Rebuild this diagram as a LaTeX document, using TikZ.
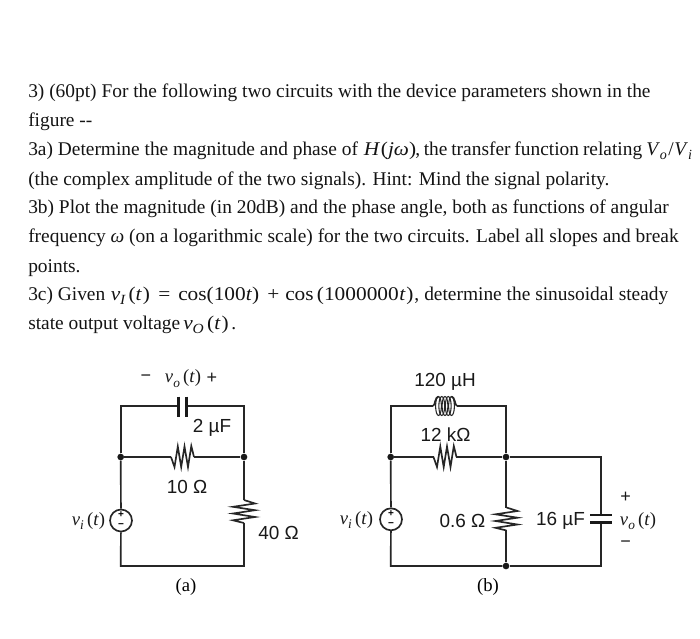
\documentclass[tikz,border=0pt]{standalone}
\usepackage{fontspec}
\setmainfont{Liberation Serif}
\newfontfamily\cirfont{Liberation Sans}
\newfontfamily\mf[FakeStretch=1.1]{Liberation Serif}
\newcommand{\subs}[1]{\raisebox{-0.22em}{\fontsize{10.5}{12}\selectfont\textit{#1}}}
\newcommand{\csub}[1]{\raisebox{-0.25em}{\fontsize{10}{10}\selectfont\textit{#1}}}
\tikzset{
  x=0.75pt,y=-0.75pt,
  textline/.style={anchor=base west,inner sep=0pt,font=\fontsize{14.55}{16}\selectfont,text=black!92},
  mathline/.style={textline,font=\mf\fontsize{14.55}{16}\selectfont},
  wire/.style={line width=1.25pt,black!85,line join=miter},
  dotnode/.style={circle,fill=black!90,inner sep=0pt,minimum size=5pt},
  srcnode/.style={circle,draw=black!85,line width=1.25pt,fill=white,inner sep=0pt,minimum size=16.5pt},
  val/.style={inner sep=0pt,font=\cirfont\fontsize{14.2}{16}\selectfont,text=black!90},
  lab/.style={inner sep=0pt,font=\fontsize{14}{16}\selectfont,text=black!90},
  sym/.style={inner sep=0pt,font=\cirfont\fontsize{13.5}{14}\selectfont,text=black!90},
  srcsym/.style={inner sep=0pt,font=\cirfont\bfseries\fontsize{7.5}{7.5}\selectfont},
  platewire/.style={line width=1.9pt,black!90},
  hres/.pic={\draw[wire] (-11.5,0)--(-8,10)--(-4.7,-10.5)--(-1.3,10)--(2,-10.5)--(5.5,10)--(8.8,-11)--(11.5,0);},
  vres/.pic={\draw[wire] (0,-11.5)--(11,-8)--(-11,-4.7)--(11,-1.3)--(-11,2)--(11,5.5)--(-11,8.8)--(0,11.5);},
  coil/.pic={
    \draw[wire] (-12,0) .. controls (-10,0) and (-10,-9.5) .. (-6.5,-9.5);
    \draw[wire] (12,0) .. controls (10,0) and (10,-9.5) .. (6.5,-9.5);
    \foreach \cx in {-6.5,-3.25,0,3.25,6.5}{\draw[line width=0.8pt,black!85] (\cx,0) ellipse [x radius=2.9,y radius=9.5];}
  }
}
\begin{document}
\begin{tikzpicture}
\useasboundingbox (0,0) rectangle (700,639);
\fill[white] (0,0) rectangle (700,639);

% text block
\node[textline] (l1) at (28,97) {3) (60pt) For the following two circuits with the device parameters shown in the};
\node[textline] (l2) at (28,126.5) {figure -{}-};
\node[textline] (l3) at (28,155.5) {3a) Determine the magnitude and phase of};
\node[mathline] (l3m) at (363.5,155.5) {\textit{H}\kern0.6pt(\textit{j}\textit{ω})};
\node[textline] (l3c) at (415,155.5) {,};
\node[textline] (l3b) at (423.5,155.5) {{\spaceskip=0.2em the transfer function relating}};
\node[textline] (l3v) at (646,155.5) {\textit{V}\subs{o}\kern1pt/\kern0.5pt\textit{V}\subs{i}};
\node[textline] (l4) at (28,185) {(the complex amplitude of the two signals). Hint: Mind the signal polarity.};
\node[textline] (l5) at (28,213.5) {3b) Plot the magnitude (in 20dB) and the phase angle, both as functions of angular};
\node[textline] (l6) at (28,242) {frequency \textit{ω} (on a logarithmic scale) for the two circuits. Label all slopes and break};
\node[textline] (l7) at (28,272) {points.};
\node[textline] (l8) at (28,300.5) {3c) Given};
\node[mathline] (l8v) at (110.5,300.5) {\textit{v}\subs{I}\kern2pt(\textit{t}\kern0.6pt)};
\node[mathline] (l8e) at (158,300.5) {=};
\node[mathline] (l8c) at (178,300.5) {cos(100\textit{t})};
\node[mathline] (l8p) at (267,300.5) {+};
\node[mathline] (l8d) at (285,300.5) {cos};
\node[mathline] (l8f) at (316.7,300.5) {(1000000\kern0.5pt\textit{t}\kern0.5pt)};
\node[textline] (l8g) at (414,300.5) {,};
\node[textline] (l8h) at (424,300.5) {determine the sinusoidal steady};
\node[textline] (l9) at (28,329.5) {state output voltage};
\node[mathline] (l9v) at (183,329.5) {\textit{v}\subs{O}\kern2.5pt(\textit{t}\kern0.8pt)};
\node[textline] (l9d) at (231,329.5) {.};

% circuit (a)
\coordinate (atl) at (120.7,406);
\coordinate (atr) at (244,406);
\coordinate (abl) at (120.7,566);
\coordinate (abr) at (244,566);
\node[dotnode] (aml) at (120.7,457) {};
\node[dotnode] (amr) at (244,457) {};
\node[srcnode] (asrc) at (121,520.5) {};
\node[srcsym] (asp) at (121,514.8) {+};
\node[srcsym] (asm) at (121,526) {\textminus};
\coordinate (acl) at (178.5,406);
\coordinate (acr) at (186.7,406);
\coordinate (arl) at (171,457);
\coordinate (arr) at (194,457);
\coordinate (art) at (244,500);
\coordinate (arb) at (244,523);
\draw[wire] (aml) -- (asrc);
\draw[wire] (asrc) -- (abl) -- (abr) -- (arb);
\draw[wire] (aml) -- (atl) -- (acl);
\draw[wire] (acr) -- (atr) -- (amr);
\draw[wire] (amr) -- (art);
\draw[wire] (aml) -- (arl);
\draw[wire] (arr) -- (amr);
\draw[platewire] (178.5,396.5) -- (178.5,416.5) (186.7,396.5) -- (186.7,416.5);
\pic at (182.5,457) {hres};
\pic at (244,511.5) {vres};
\node[sym] (avm) at (146,378) {\textminus};
\node[lab] (avo) at (183,378.5) {\textit{v}\csub{o}\,(\textit{t})};
\node[sym] (avp) at (212,378) {+};
\node[val] (ac) at (212,427.7) {2 µF};
\node[val] (ar) at (187,486.7) {10 Ω};
\node[val] (ar2) at (278.5,533) {40 Ω};
\node[lab] (avi) at (88.5,521) {\textit{v}\csub{i}\,(\textit{t})};
\node[inner sep=0pt,font=\fontsize{14}{16}\selectfont] (acapa) at (186,587.5) {(a)};

% circuit (b)
\coordinate (btl) at (390.7,406);
\coordinate (btm) at (506,406);
\coordinate (bbl) at (390.7,566);
\coordinate (btr) at (600.7,457);
\coordinate (bbr) at (600.7,566);
\node[dotnode] (bml) at (390.7,457) {};
\node[dotnode] (bmm) at (506,457) {};
\node[dotnode] (bbm) at (506,566) {};
\node[srcnode] (bsrc) at (391,519.3) {};
\node[srcsym] (bsp) at (391,513.6) {+};
\node[srcsym] (bsm) at (391,524.8) {\textminus};
\coordinate (bll) at (433,406);
\coordinate (blr) at (457,406);
\coordinate (brl) at (434,457);
\coordinate (brr) at (456,457);
\coordinate (bvt) at (506,508);
\coordinate (bvb) at (506,530);
\coordinate (bct) at (600.7,515);
\coordinate (bcb) at (600.7,522.7);
\draw[wire] (bml) -- (bsrc);
\draw[wire] (bsrc) -- (bbl) -- (bbm);
\draw[wire] (bbm) -- (bbr) -- (bcb);
\draw[wire] (bct) -- (btr) -- (bmm);
\draw[wire] (bml) -- (btl) -- (bll);
\draw[wire] (blr) -- (btm) -- (bmm);
\draw[wire] (bml) -- (brl);
\draw[wire] (brr) -- (bmm);
\draw[wire] (bmm) -- (bvt);
\draw[wire] (bvb) -- (bbm);
\draw[platewire] (590,515) -- (612,515) (590,522.7) -- (612,522.7);
\pic at (445,406) {coil};
\pic at (445,457) {hres};
\pic at (506.5,519) {vres};
\node[val] (bl) at (445,381.7) {120 µH};
\node[val] (br) at (445.5,435) {12 kΩ};
\node[val] (br2) at (462.5,521) {0.6 Ω};
\node[val] (bc) at (560.5,521) {16 µF};
\node[lab] (bvi) at (356.5,520) {\textit{v}\csub{i}\,(\textit{t})};
\node[lab] (bvo) at (638,521) {\textit{v}\csub{o}\,(\textit{t})};
\node[sym] (bvp) at (625.7,497) {+};
\node[sym] (bvm) at (625.7,544) {\textminus};
\node[inner sep=0pt,font=\fontsize{14}{16}\selectfont] (bcapb) at (488,587.5) {(b)};
\end{tikzpicture}
\end{document}
